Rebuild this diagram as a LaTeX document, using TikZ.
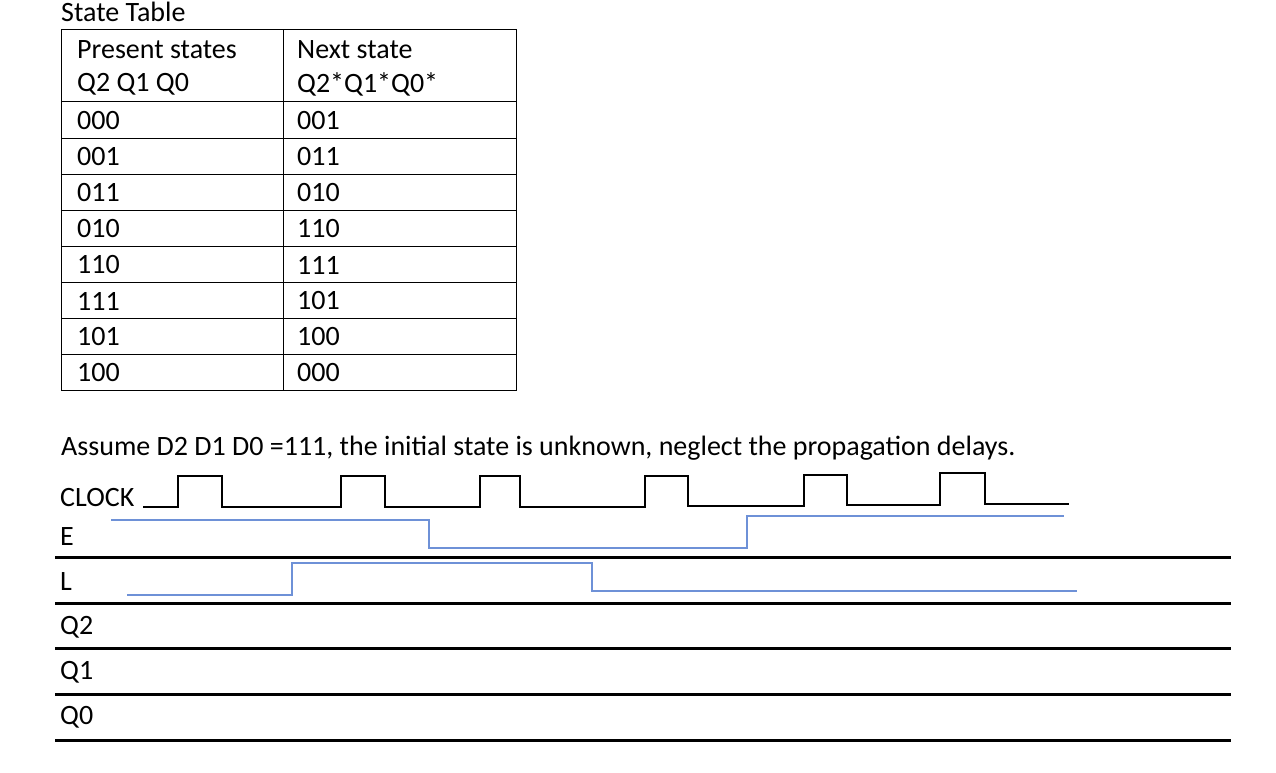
\documentclass[tikz,border=0pt]{standalone}
\usepackage{fontspec}
\setmainfont{Carlito}
\begin{document}
\begin{tikzpicture}[x=1pt,y=-1pt,
  lbl/.style={anchor=west,inner sep=0pt,font=\fontsize{28}{32}\selectfont},
  wave/.style={line width=1.3pt,black},
  sig/.style={line width=1.2pt,color={rgb,255:red,110;green,145;blue,215}},
  sep/.style={line width=3pt,black},
  grid/.style={line width=1pt,black}]
\useasboundingbox[fill=white] (0,0) rectangle (1276,773);
\node[lbl] (title) at (61,12) {State Table};
% table
\draw[grid] (61,30) rectangle (516,390);
\draw[grid] (283,30) -- (283,390);
\foreach \y in {102,138,174,210,246,282,318,354}{\draw[grid] (61,\y) -- (516,\y);}
\node[lbl] (h1) at (77,50) {Present states};
\node[lbl] (h2) at (77,84) {Q2 Q1 Q0};
\node[lbl] (h3) at (297,50) {Next state};
\node[lbl] (h4) at (297,84) {Q2*Q1*Q0*};
\foreach \a/\b [count=\i] in {000/001,001/011,011/010,010/110,110/111,111/101,101/100,100/000}{
  \node[lbl] (p\i) at (77,85+36*\i) {\a};
  \node[lbl] (n\i) at (297,85+36*\i) {\b};
}
\node[lbl] (assume) at (61,448) {Assume D2 D1 D0 =111, the initial state is unknown, neglect the propagation delays.};
\node[lbl] (clk) at (60,498) {CLOCK};
\node[lbl] (E) at (60,537) {E};
\node[lbl] (L) at (60,582) {L};
\node[lbl] (Q2) at (60,627) {Q2};
\node[lbl] (Q1) at (60,672) {Q1};
\node[lbl] (Q0) at (60,717) {Q0};
% clock
\draw[wave] (143,507) -- (178,507) -- (178,476) -- (222,476) -- (222,507)
  -- (341,507) -- (341,476) -- (385,476) -- (385,507)
  -- (480,507) -- (480,476) -- (520,476) -- (520,507)
  -- (645,507) -- (645,476) -- (688,476) -- (688,506)
  -- (804,506) -- (804,475) -- (847,475) -- (847,505)
  -- (940,505) -- (940,473) -- (985,473) -- (985,504) -- (1069,504);
\draw[sig] (111,520) -- (429,520) -- (429,548) -- (747,548) -- (747,516) -- (1064,516);
\draw[sig] (127,595) -- (292,595) -- (292,563) -- (592,563) -- (592,591) -- (1077,591);
\foreach \y in {557,603,648,694,740}{\draw[sep] (55,\y) -- (1231,\y);}
\end{tikzpicture}
\end{document}
